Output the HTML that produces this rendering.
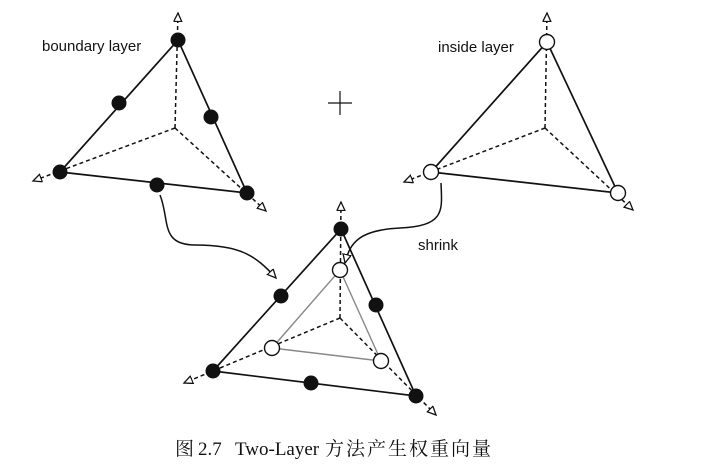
<!DOCTYPE html>
<html><head><meta charset="utf-8"><style>
html,body{margin:0;padding:0;background:#fff;width:708px;height:476px;overflow:hidden}
svg{display:block}
</style></head><body>
<svg width="708" height="476" viewBox="0 0 708 476" xmlns="http://www.w3.org/2000/svg">
<defs>
<marker id="ar" markerWidth="12" markerHeight="12" refX="9" refY="4.5" orient="auto" markerUnits="userSpaceOnUse">
<path d="M0.5,0.5 L9,4.5 L0.5,8.5 Z" fill="#fff" stroke="#111" stroke-width="1.3"/>
</marker>
</defs>
<g stroke="#111" stroke-width="1.5" fill="none">
<g stroke-dasharray="4,3">
<line x1="175" y1="128" x2="178" y2="13" marker-end="url(#ar)"/>
<line x1="175" y1="128" x2="33" y2="181" marker-end="url(#ar)"/>
<line x1="175" y1="128" x2="266" y2="211" marker-end="url(#ar)"/>
</g>
<polyline points="60,172 178,40 247,193 60,172" stroke-width="1.7"/>
<g stroke-dasharray="4,3">
<line x1="545" y1="128" x2="547" y2="13" marker-end="url(#ar)"/>
<line x1="545" y1="128" x2="404" y2="182" marker-end="url(#ar)"/>
<line x1="545" y1="128" x2="633" y2="210" marker-end="url(#ar)"/>
</g>
<polyline points="431,172 547,42 618,193 431,172" stroke-width="1.7"/>
<g stroke-dasharray="4,3">
<line x1="340" y1="318" x2="341" y2="202" marker-end="url(#ar)"/>
<line x1="340" y1="318" x2="184" y2="383" marker-end="url(#ar)"/>
<line x1="340" y1="318" x2="436" y2="415" marker-end="url(#ar)"/>
</g>
<polyline points="213,371 341,229 416,396 213,371" stroke-width="1.7"/>
<polyline points="272,348 340,270 381,361 272,348" stroke="#888" stroke-width="1.4"/>
<path d="M160,195 C170,220 160,245 195,245 C240,245 255,255 276,278" marker-end="url(#ar)"/>
<path d="M441,183 C442,210 446,226 400,228 C360,230 350,242 345,263" marker-end="url(#ar)"/>
<line x1="328" y1="103" x2="352" y2="103" stroke-width="1.2"/>
<line x1="340" y1="91" x2="340" y2="115" stroke-width="1.2"/>
</g>
<g fill="#111">
<circle cx="178" cy="40" r="7.5"/><circle cx="60" cy="172" r="7.5"/><circle cx="247" cy="193" r="7.5"/>
<circle cx="119" cy="103" r="7.5"/><circle cx="211" cy="117" r="7.5"/><circle cx="157" cy="185" r="7.5"/>
<circle cx="341" cy="229" r="7.5"/><circle cx="213" cy="371" r="7.5"/><circle cx="416" cy="396" r="7.5"/>
<circle cx="281" cy="296" r="7.5"/><circle cx="376" cy="305" r="7.5"/><circle cx="311" cy="383" r="7.5"/>
</g>
<g fill="#fff" stroke="#111" stroke-width="1.4">
<circle cx="547" cy="42" r="7.5"/><circle cx="431" cy="172" r="7.5"/><circle cx="618" cy="193" r="7.5"/>
<circle cx="340" cy="270" r="7.5"/><circle cx="272" cy="348" r="7.5"/><circle cx="381" cy="361" r="7.5"/>
</g>
<g font-family="Liberation Sans, sans-serif" font-size="15" fill="#111">
<text x="42" y="51">boundary layer</text>
<text x="438" y="52">inside layer</text>
<text x="418" y="250">shrink</text>
</g>
<text y="455" font-family="Liberation Serif, 'Noto Serif CJK SC', serif" font-size="19" fill="#111"><tspan x="175">图</tspan><tspan x="198">2.7</tspan><tspan x="235">Two-Layer</tspan><tspan x="325" letter-spacing="2">方法产生权重向量</tspan></text>
</svg>
</body></html>
